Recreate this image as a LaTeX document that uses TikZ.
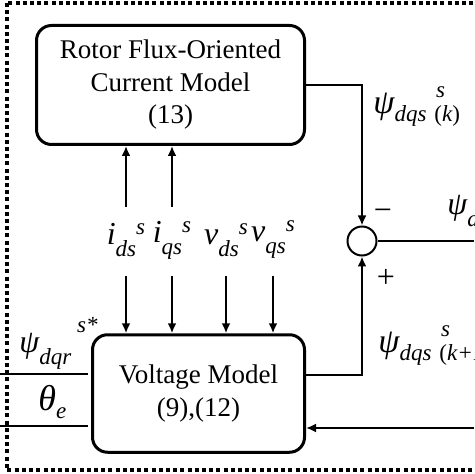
\documentclass[tikz,border=0pt]{standalone}
\usepackage{fontspec}
\setmainfont{Liberation Serif}
\usetikzlibrary{arrows.meta,positioning,calc}

\newcommand{\bigsz}{\fontsize{16}{16}\selectfont}
\newcommand{\smsz}{\fontsize{11.5}{11.5}\selectfont}
\newcommand{\sigvar}[4][5pt]{{\bigsz\itshape #2\raisebox{-6pt}{\smsz #3}\raisebox{#1}{\smsz #4}}}
\newcommand{\fluxlbl}[1]{{\fontsize{17}{17}\selectfont\itshape ψ\raisebox{-4pt}{\smsz dqs}\raisebox{8pt}{\rlap{\smsz\, s}}\kern4pt\raisebox{-4pt}{\smsz\upshape(\itshape #1\upshape)}}}

\begin{document}
\begin{tikzpicture}[x=0.5pt,y=-0.5pt,
	block/.style={draw,line width=1.5pt,rounded corners=7.5pt,align=center,font=\fontsize{13.5}{16.25}\selectfont},
	wire/.style={line width=1pt},
	sig/.style={wire,-{Latex[length=5pt,width=4.5pt]}},
	lbl/.style={inner sep=0pt,anchor=base west}]
	\useasboundingbox (0,0) rectangle (474,474);
	\clip (0,0) rectangle (474,474);
	\draw[line width=2pt,dash pattern=on 2pt off 1.6pt] (6.5,3) rectangle (500,470);
	\node[block,minimum width=134pt,minimum height=59.5pt] (cur) at (170.5,85) {Rotor Flux-Oriented\\Current Model\\(13)};
	\node[block,minimum width=106pt,minimum height=58.75pt] (volt) at (198.5,393.5) {Voltage Model\\(9),(12)};
	\node[draw,circle,wire,minimum size=14.5pt,inner sep=0pt] (sum) at (362,241) {};
	\node at (383,215) {\bigsz −};
	\node at (386,278) {\bigsz +};
	\node (ids) at (126,240) {\sigvar{i}{ds}{s}};
	\node (iqs) at (172,240) {\sigvar{i}{qs}{s}};
	\node (vds) at (226,240) {\sigvar{v}{ds}{s}};
	\node (vqs) at (273,240) {\sigvar{v}{qs}{s}};
	\foreach \n in {ids,iqs}
		\draw[sig] ($(\n)+(0,-33)$) -- (\n |- cur.south);
	\foreach \n in {ids,iqs,vds,vqs}
		\draw[sig] ($(\n)+(0,36)$) -- (\n |- volt.north);
	\draw[sig] (cur.east) -| (sum.north);
	\draw[sig] (volt.east |- 0,375) -| (sum.south);
	\coordinate (outend) at (474,241);
	\draw[wire] (sum.east) -- (outend);
	\coordinate (fbin) at (474,428);
	\draw[sig] (fbin) -- (volt.east |- fbin);
	\coordinate (psin) at (0,374);
	\coordinate (thin) at (0,426);
	\draw[wire,shorten >=1.5pt] (psin) -- (volt.west |- psin);
	\draw[wire,shorten >=1.5pt] (thin) -- (volt.west |- thin);
	\node[lbl] (fk) at (373,114) {\fluxlbl{k}};
	\node[lbl] (fk1) at (378,352) {\fluxlbl{k+1}};
	\node[lbl] (fout) at (447,215) {\sigvar{ψ}{dqs}{s}};
	\node[lbl] (psr) at (19,352) {\sigvar[10pt]{ψ}{dqr}{\kern3pt s*}};
	\node[lbl] (th) at (38,410) {{\fontsize{18}{18}\selectfont\itshape θ}\raisebox{-4pt}{\smsz\itshape e}};
\end{tikzpicture}
\end{document}
